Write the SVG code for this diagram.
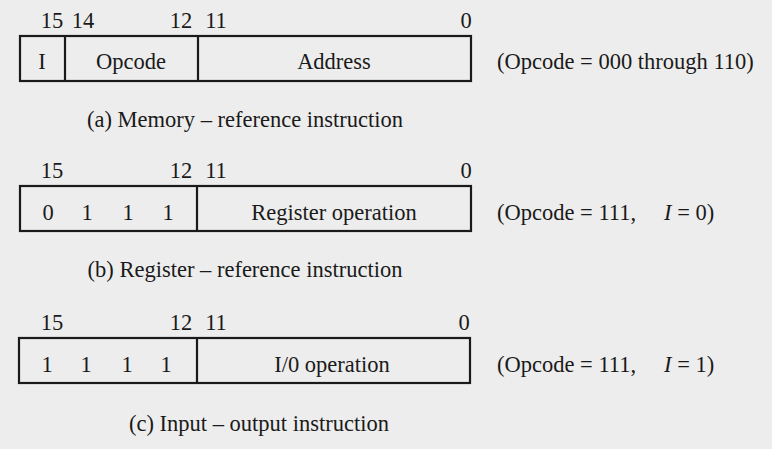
<svg xmlns="http://www.w3.org/2000/svg" width="772" height="449" viewBox="0 0 772 449">
<style>
text{font-family:"Liberation Serif","Times New Roman",serif;font-size:22.5px;fill:#1a1a1a}
.m{text-anchor:middle}
.b{fill:none;stroke:#1a1a1a;stroke-width:2.2}
</style>
<rect width="772" height="449" fill="#ededed"/>
<g id="memory">
<text x="52" y="28" class="m">15</text><text x="83" y="28" class="m">14</text>
<text x="181" y="28" class="m">12</text><text x="216" y="28" class="m">11</text><text x="466" y="28" class="m">0</text>
<rect x="20" y="36" width="451" height="45" class="b"/>
<line x1="65" y1="36" x2="65" y2="81" class="b"/><line x1="198" y1="36" x2="198" y2="81" class="b"/>
<text x="42" y="69" class="m">I</text><text x="131" y="69" class="m">Opcode</text><text x="334" y="69" class="m">Address</text>
<text x="497" y="69">(Opcode =  000 through 110)</text>
<text x="245" y="127" class="m">(a) Memory – reference instruction</text>
</g>
<g id="register">
<text x="52" y="178" class="m">15</text>
<text x="181" y="178" class="m">12</text><text x="216" y="178" class="m">11</text><text x="466" y="178" class="m">0</text>
<rect x="20" y="186" width="451" height="45" class="b"/>
<line x1="197" y1="186" x2="197" y2="231" class="b"/>
<text x="48" y="220" class="m">0</text><text x="87" y="220" class="m">1</text><text x="128" y="220" class="m">1</text><text x="168" y="220" class="m">1</text>
<text x="334" y="220" class="m">Register operation</text>
<text x="497" y="220">(Opcode = 111,</text><text x="664" y="220"><tspan font-style="italic">I</tspan> = 0)</text>
<text x="245" y="277" class="m">(b) Register – reference instruction</text>
</g>
<g id="io">
<text x="52" y="330" class="m">15</text>
<text x="181" y="330" class="m">12</text><text x="216" y="330" class="m">11</text><text x="464" y="330" class="m">0</text>
<rect x="19" y="338" width="451" height="45" class="b"/>
<line x1="197" y1="338" x2="197" y2="383" class="b"/>
<text x="47" y="372" class="m">1</text><text x="86" y="372" class="m">1</text><text x="127" y="372" class="m">1</text><text x="166" y="372" class="m">1</text>
<text x="332" y="372" class="m">I/0 operation</text>
<text x="497" y="372">(Opcode = 111,</text><text x="664" y="372"><tspan font-style="italic">I</tspan> = 1)</text>
<text x="259" y="431" class="m">(c) Input – output instruction</text>
</g>
<g id="connectors"/>
</svg>
